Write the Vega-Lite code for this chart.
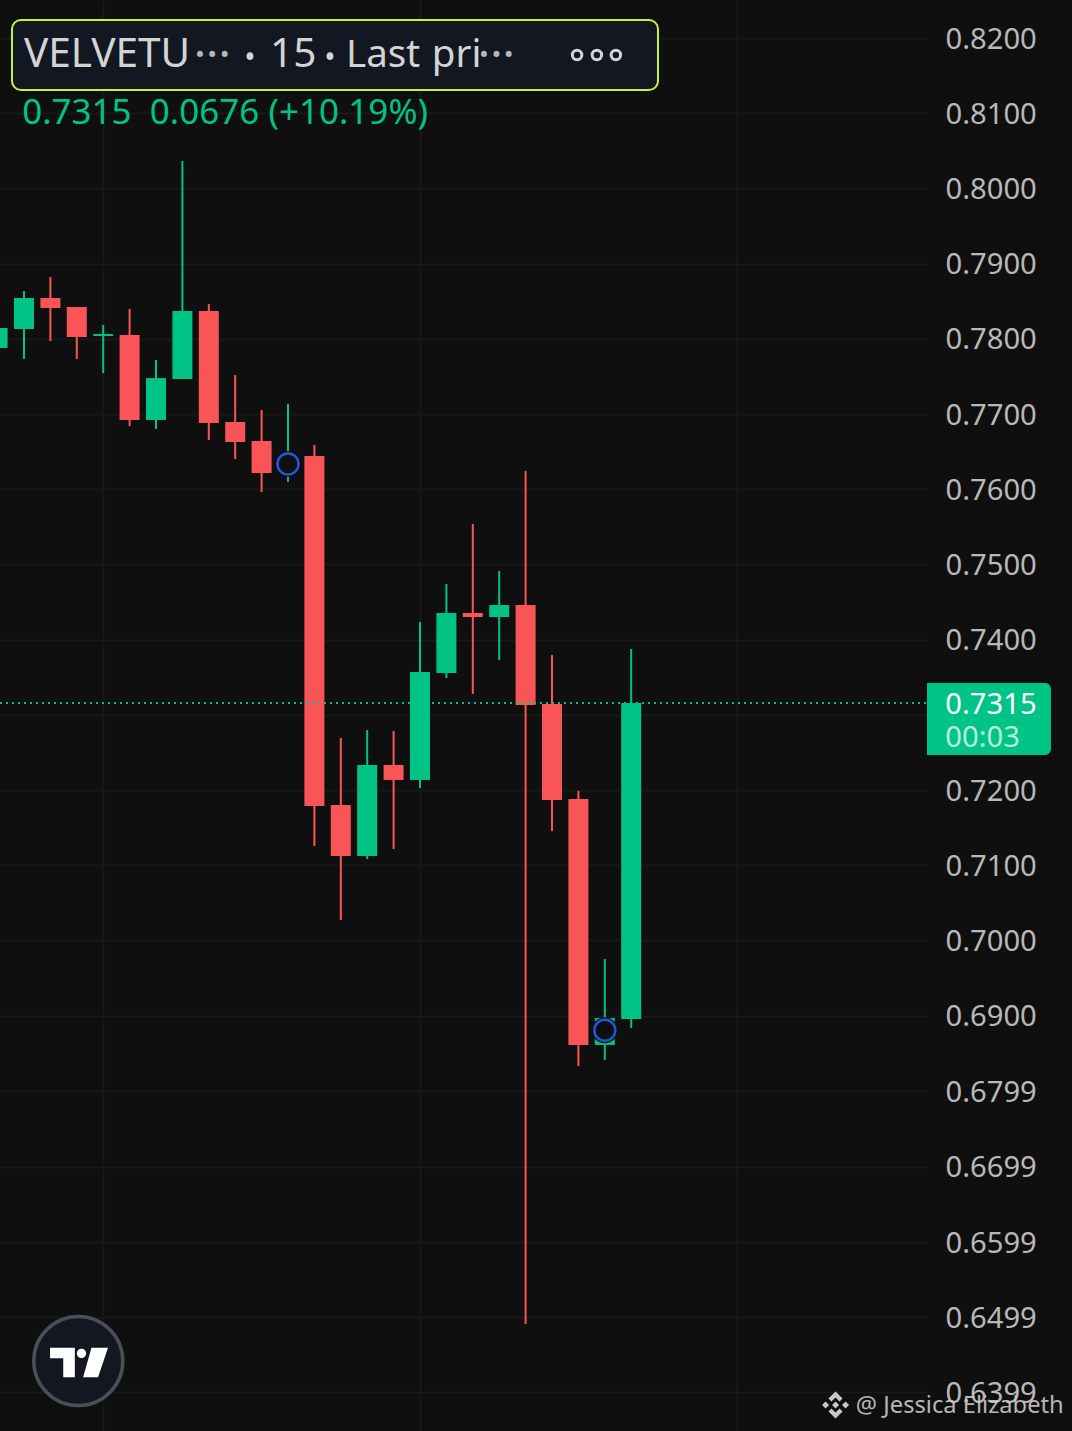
{
  "$schema": "https://vega.github.io/schema/vega-lite/v6.json",
  "width": 927,
  "height": 1431,
  "padding": {"left": 0, "top": 0, "right": 145, "bottom": 0},
  "autosize": "none",
  "background": "#0f0f0f",
  "datasets": {
    "candles": [
      {"t": 0, "dir": "up", "open": 0.77877, "close": 0.78143, "high": 0.78143, "low": 0.77877},
      {"t": 1, "dir": "up", "open": 0.78130, "close": 0.78542, "high": 0.78635, "low": 0.77731},
      {"t": 2, "dir": "down", "open": 0.78542, "close": 0.78409, "high": 0.78821, "low": 0.77970},
      {"t": 3, "dir": "down", "open": 0.78423, "close": 0.78024, "high": 0.78423, "low": 0.77731},
      {"t": 4, "dir": "up", "open": 0.78037, "close": 0.78063, "high": 0.78183, "low": 0.77545},
      {"t": 5, "dir": "down", "open": 0.78050, "close": 0.76920, "high": 0.78396, "low": 0.76840},
      {"t": 6, "dir": "up", "open": 0.76920, "close": 0.77478, "high": 0.77718, "low": 0.76800},
      {"t": 7, "dir": "up", "open": 0.77465, "close": 0.78369, "high": 0.80364, "low": 0.77465},
      {"t": 8, "dir": "down", "open": 0.78369, "close": 0.76880, "high": 0.78462, "low": 0.76654},
      {"t": 9, "dir": "down", "open": 0.76893, "close": 0.76627, "high": 0.77518, "low": 0.76401},
      {"t": 10, "dir": "down", "open": 0.76641, "close": 0.76215, "high": 0.77053, "low": 0.75962},
      {"t": 11, "dir": "up", "open": 0.76228, "close": 0.76415, "high": 0.77133, "low": 0.76095},
      {"t": 12, "dir": "down", "open": 0.76441, "close": 0.71787, "high": 0.76587, "low": 0.71255},
      {"t": 13, "dir": "down", "open": 0.71800, "close": 0.71122, "high": 0.72691, "low": 0.70271},
      {"t": 14, "dir": "up", "open": 0.71122, "close": 0.72332, "high": 0.72797, "low": 0.71082},
      {"t": 15, "dir": "down", "open": 0.72332, "close": 0.72133, "high": 0.72784, "low": 0.71215},
      {"t": 16, "dir": "up", "open": 0.72133, "close": 0.73569, "high": 0.74234, "low": 0.72026},
      {"t": 17, "dir": "up", "open": 0.73555, "close": 0.74353, "high": 0.74739, "low": 0.73489},
      {"t": 18, "dir": "down", "open": 0.74353, "close": 0.74300, "high": 0.75537, "low": 0.73276},
      {"t": 19, "dir": "up", "open": 0.74300, "close": 0.74460, "high": 0.74912, "low": 0.73728},
      {"t": 20, "dir": "down", "open": 0.74460, "close": 0.73130, "high": 0.76242, "low": 0.64899},
      {"t": 21, "dir": "down", "open": 0.73143, "close": 0.71867, "high": 0.73795, "low": 0.71454},
      {"t": 22, "dir": "down", "open": 0.71880, "close": 0.68609, "high": 0.71986, "low": 0.68329},
      {"t": 23, "dir": "up", "open": 0.68609, "close": 0.68968, "high": 0.69752, "low": 0.68409},
      {"t": 24, "dir": "up", "open": 0.68954, "close": 0.73157, "high": 0.73875, "low": 0.68835}
    ],
    "markers": [
      {"t": 11, "price": 0.76336},
      {"t": 23, "price": 0.68804}
    ]
  },
  "encoding": {
    "x": {
      "field": "t",
      "type": "quantitative",
      "scale": {"domain": [0.0909, 35.205], "nice": false, "zero": false, "padding": 0},
      "axis": {"values": [4, 16, 28], "grid": true, "gridColor": "#191919", "gridWidth": 2, "labels": false, "ticks": false, "domain": false, "title": null}
    },
    "y": {
      "field": "price",
      "type": "quantitative",
      "scale": {"domain": [0.63475, 0.825053], "nice": false, "zero": false, "padding": 0},
      "axis": {
        "orient": "right",
        "values": [0.82, 0.81, 0.80, 0.79, 0.78, 0.77, 0.76, 0.75, 0.74, 0.73, 0.72, 0.71, 0.70, 0.69, 0.6799, 0.6699, 0.6599, 0.6499, 0.6399],
        "format": ".4f",
        "grid": true,
        "gridColor": "#191919",
        "gridWidth": 2,
        "ticks": false,
        "domain": false,
        "title": null,
        "labelPadding": 18,
        "labelOffset": 1.2,
        "labelFont": "Noto Sans",
        "labelFontSize": 29.2,
        "labelColor": "#b8b8b8",
        "labelOverlap": false,
        "labelBound": false,
        "labelFlush": false
      }
    }
  },
  "layer": [
    {
      "data": {"name": "candles"},
      "mark": {"type": "rule", "strokeWidth": 2},
      "encoding": {
        "y": {"field": "low", "type": "quantitative"},
        "y2": {"field": "high"},
        "color": {"field": "dir", "type": "nominal", "scale": {"domain": ["up", "down"], "range": ["#00c386", "#fa5556"]}, "legend": null}
      }
    },
    {
      "data": {"name": "candles"},
      "mark": {"type": "bar", "size": 20},
      "encoding": {
        "y": {"field": "open", "type": "quantitative"},
        "y2": {"field": "close"},
        "color": {"field": "dir", "type": "nominal", "legend": null}
      }
    },
    {
      "data": {"values": [{"price": 0.73157}]},
      "mark": {"type": "rule", "stroke": "#00c386", "strokeWidth": 2, "strokeDash": [2, 4]},
      "encoding": {"x": {"value": 0}, "x2": {"value": 927}}
    },
    {
      "data": {"name": "markers"},
      "mark": {"type": "point", "filled": true, "fill": "#0f0f0f", "opacity": 1, "size": 676},
      "encoding": {}
    },
    {
      "data": {"name": "markers"},
      "mark": {"type": "point", "filled": true, "fill": "#0f0f0f", "stroke": "#2156d8", "strokeWidth": 2.5, "opacity": 1, "size": 440},
      "encoding": {}
    },
    {
      "data": {"values": [{"t": 0.545, "t2": 25.015, "price": 0.82239, "price2": 0.81308}]},
      "mark": {"type": "rect", "fill": "#131722", "stroke": "#c3f53c", "strokeWidth": 2, "cornerRadius": 9},
      "encoding": {"x2": {"field": "t2"}, "y2": {"field": "price2"}}
    },
    {
      "data": {"values": [
        {"t": 1.0, "price": 0.81614, "label": "VELVETU"},
        {"t": 10.32, "price": 0.81614, "label": "15"}
      ]},
      "mark": {"type": "text", "align": "left", "baseline": "alphabetic", "font": "Noto Sans", "fontSize": 40.5, "color": "#d4d4d4"},
      "encoding": {"text": {"field": "label"}}
    },
    {
      "data": {"values": [
        {"t": 13.2, "price": 0.81614, "label": "Last"},
        {"t": 16.45, "price": 0.81614, "label": "pri"}
      ]},
      "mark": {"type": "text", "align": "left", "baseline": "alphabetic", "font": "Noto Sans", "fontSize": 38.5, "color": "#d4d4d4"},
      "encoding": {"text": {"field": "label"}}
    },
    {
      "data": {"values": [
        {"t": 7.43, "price": 0.81574, "label": "···"},
        {"t": 18.19, "price": 0.81574, "label": "···"}
      ]},
      "mark": {"type": "text", "align": "left", "baseline": "alphabetic", "font": "Noto Sans", "fontSize": 46, "color": "#d4d4d4", "opacity": 0.85},
      "encoding": {"text": {"field": "label"}}
    },
    {
      "data": {"values": [
        {"t": 9.28, "price": 0.81499, "label": "·"},
        {"t": 12.31, "price": 0.81499, "label": "·"}
      ]},
      "mark": {"type": "text", "align": "left", "baseline": "alphabetic", "font": "Noto Sans", "fontSize": 56, "color": "#d4d4d4"},
      "encoding": {"text": {"field": "label"}}
    },
    {
      "data": {"values": [{"t": 21.95, "price": 0.81774}, {"t": 22.70, "price": 0.81774}, {"t": 23.42, "price": 0.81774}]},
      "mark": {"type": "point", "filled": false, "stroke": "#d4d4d4", "strokeWidth": 3, "opacity": 1, "size": 90},
      "encoding": {}
    },
    {
      "data": {"values": [{"t": 0.93, "price": 0.80856, "label": "0.7315\u00a0\u00a00.0676 (+10.19%)"}]},
      "mark": {"type": "text", "align": "left", "baseline": "alphabetic", "font": "Noto Sans", "fontSize": 35, "color": "#00c386"},
      "encoding": {"text": {"field": "label"}}
    },
    {
      "data": {"values": [{"t": 35.205, "t2": 39.9, "price": 0.73423, "price2": 0.72465}]},
      "mark": {"type": "rect", "fill": "#00c386", "cornerRadiusTopRight": 6, "cornerRadiusBottomRight": 6},
      "encoding": {"x2": {"field": "t2"}, "y2": {"field": "price2"}}
    },
    {
      "data": {"values": [{"t": 35.9, "price": 0.73010, "label": "0.7315"}]},
      "mark": {"type": "text", "align": "left", "baseline": "alphabetic", "font": "Noto Sans", "fontSize": 29.2, "color": "#ffffff"},
      "encoding": {"text": {"field": "label"}}
    },
    {
      "data": {"values": [{"t": 35.9, "price": 0.72571, "label": "00:03"}]},
      "mark": {"type": "text", "align": "left", "baseline": "alphabetic", "font": "Noto Sans", "fontSize": 29.2, "color": "#ffffff", "opacity": 0.7},
      "encoding": {"text": {"field": "label"}}
    },
    {
      "data": {"values": [{"t": 3.057, "price": 0.64406}]},
      "mark": {"type": "point", "filled": true, "fill": "#131722", "stroke": "#4a4e55", "strokeWidth": 3.5, "opacity": 1, "size": 7921},
      "encoding": {}
    },
    {
      "data": {"values": [{"t": 3.083, "price": 0.64386}]},
      "mark": {
        "type": "point",
        "filled": true,
        "fill": "#ffffff",
        "opacity": 1,
        "size": 3364,
        "shape": "M-1,-.509L-.143,-.509L-.143,.509L-.543,.509L-.543,-.143L-1,-.143ZM-.074,-.314a.16,.16 0 1,0 .32,0a.16,.16 0 1,0 -.32,0ZM.43,-.509L1,-.509L.657,.509L.143,.509Z"
      },
      "encoding": {}
    },
    {
      "data": {"values": [{"t": 31.74, "price": 0.63821}]},
      "mark": {
        "type": "point",
        "filled": true,
        "fill": "#c9c9c9",
        "opacity": 1,
        "size": 729,
        "shape": "M0,-1L.52,-.48L.3,-.26L0,-.56L-.3,-.26L-.52,-.48ZM0,1L.52,.48L.3,.26L0,.56L-.3,.26L-.52,.48ZM-1,0L-.74,-.26L-.48,0L-.74,.26ZM1,0L.74,-.26L.48,0L.74,.26ZM0,-.26L.26,0L0,.26L-.26,0Z"
      },
      "encoding": {}
    },
    {
      "data": {"values": [{"t": 32.51, "price": 0.63715, "label": "@ Jessica Elizabeth"}]},
      "mark": {"type": "text", "align": "left", "baseline": "alphabetic", "font": "Noto Sans", "fontSize": 23.7, "color": "#c9c9c9", "opacity": 0.9},
      "encoding": {"text": {"field": "label"}}
    }
  ],
  "config": {
    "view": {"stroke": null}
  }
}
